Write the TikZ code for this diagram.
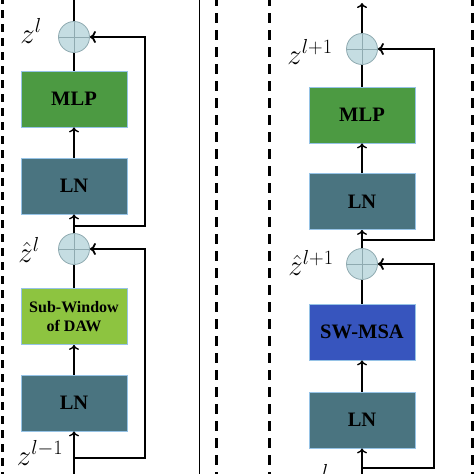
\RequirePackage{fix-cm}
\documentclass[tikz,border=0pt]{standalone}
\usepackage{fontspec}
\setmainfont{Liberation Serif}
\usetikzlibrary{arrows.meta}
\definecolor{mlpgreen}{RGB}{76,154,66}
\definecolor{lnteal}{RGB}{74,116,128}
\definecolor{subgreen}{RGB}{141,196,64}
\definecolor{swblue}{RGB}{55,85,190}
\definecolor{boxedge}{RGB}{150,195,230}
\definecolor{addfill}{RGB}{197,221,226}
\definecolor{addedge}{RGB}{143,170,176}
\tikzset{
  blk/.style={draw=boxedge, line width=0.8pt, minimum width=106pt, minimum height=56pt,
    inner sep=0pt, align=center, font=\fontsize{20.5}{22}\selectfont\bfseries},
  addc/.style={circle, draw=addedge, fill=addfill, line width=0.8pt, minimum size=31pt, inner sep=0pt,
    path picture={\draw[addedge, line width=0.7pt] (path picture bounding box.north) -- (path picture bounding box.south)
      (path picture bounding box.west) -- (path picture bounding box.east);}},
  mainln/.style={line width=1.5pt},
  mainarr/.style={line width=1.5pt, -{To[length=5pt,width=10pt,line width=1.4pt]}},
  fbarr/.style={line width=2.5pt, -{To[length=6pt,width=12pt,line width=1.8pt]}},
  lbl/.style={font=\fontsize{29}{31}\selectfont, inner sep=0pt},
  dline/.style={line width=3pt, dash pattern=on 10pt off 7pt},
}
\begin{document}
\begin{tikzpicture}[x=1pt,y=-1pt]
\useasboundingbox (0,0) rectangle (474,474);
\clip (0,0) rectangle (474,474);
% frame lines
\draw[dline, dash pattern=on 8pt off 6pt] (2,-4) -- (2,480);
\draw[line width=1pt] (199.5,-4) -- (199.5,480);
\draw[dline] (216,-4) -- (216,480);
\draw[dline] (269,-4) -- (269,480);
\draw[dline] (472.5,-4) -- (472.5,480);

% ---------- left block ----------
\node[addc] (la1) at (74,37) {};
\node[blk, fill=mlpgreen] (lmlp) at (74,99) {MLP};
\node[blk, fill=lnteal] (lln1) at (74,186) {LN};
\node[addc] (la2) at (74,249) {};
\node[blk, fill=subgreen, font=\fontsize{16}{19}\selectfont\bfseries] (lsub) at (74,316.5) {Sub-Window\\of DAW};
\node[blk, fill=lnteal] (lln2) at (74,403) {LN};
\coordinate (ltop) at (74,-5);
\coordinate (lbot) at (74,480);
\coordinate (lb1) at (74,226);
\coordinate (lr1) at (145,226);
\coordinate (lb2) at (74,458);
\coordinate (lr2) at (145,458);

\draw[mainln] (la1) -- (ltop);
\draw[mainln] (lmlp) -- (la1);
\draw[mainarr] (lln1) -- (lmlp);
\draw[mainarr] (la2) -- (lln1);
\draw[mainln] (lsub) -- (la2);
\draw[mainarr] (lln2) -- (lsub);
\draw[mainarr] (lbot) -- (lln2);
\draw[fbarr] (lb1) -- (lr1) |- (la1);
\draw[fbarr] (lb2) -- (lr2) |- (la2);

\node[lbl] (lz1) at (31,31) {$z^{l}$};
\node[lbl] (lz2) at (29,250) {$\hat{z}^{l}$};
\node[lbl] (lz3) at (40,453) {$z^{l-1}$};

% ---------- right block ----------
\node[addc] (ra1) at (362,49) {};
\node[blk, fill=mlpgreen] (rmlp) at (362,115) {MLP};
\node[blk, fill=lnteal] (rln1) at (362,201.5) {LN};
\node[addc] (ra2) at (362,264) {};
\node[blk, fill=swblue] (rsw) at (362,332) {SW-MSA};
\node[blk, fill=lnteal] (rln2) at (362,420) {LN};
\coordinate (rtop) at (362,3);
\coordinate (rbot) at (362,480);
\coordinate (rb1) at (362,240);
\coordinate (rr1) at (434,240);
\coordinate (rb2) at (362,468);
\coordinate (rr2) at (434,468);

\draw[mainarr] (ra1) -- (rtop);
\draw[mainln] (rmlp) -- (ra1);
\draw[mainarr] (rln1) -- (rmlp);
\draw[mainarr] (ra2) -- (rln1);
\draw[mainln] (rsw) -- (ra2);
\draw[mainarr] (rln2) -- (rsw);
\draw[mainarr] (rbot) -- (rln2);
\draw[fbarr] (rb1) -- (rr1) |- (ra1);
\draw[fbarr] (rb2) -- (rr2) |- (ra2);

\node[lbl] (rz1) at (310,52) {$z^{l+1}$};
\node[lbl] (rz2) at (311,263) {$\hat{z}^{l+1}$};
\node[lbl] (rz3) at (318,477) {$z^{l}$};
\end{tikzpicture}
\end{document}
